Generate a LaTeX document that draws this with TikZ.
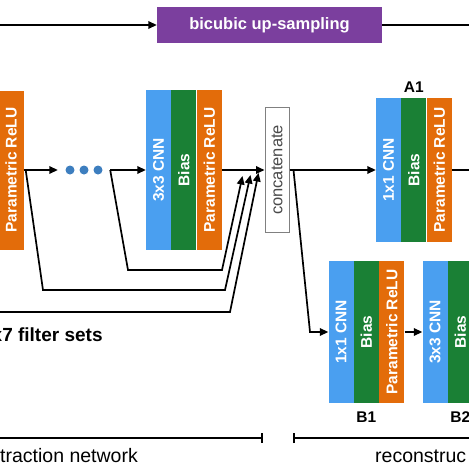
\documentclass[tikz,border=0pt]{standalone}
\usepackage{fontspec}
\setmainfont{Liberation Sans}
\usepackage{graphicx}
\usepackage{tikz}
\usetikzlibrary{arrows.meta,positioning,calc}
\definecolor{azul}{HTML}{4A9FF0}
\definecolor{verde}{HTML}{1A8035}
\definecolor{naranja}{HTML}{E36C0A}
\definecolor{morado}{HTML}{7B3F9E}
\definecolor{azulpunto}{HTML}{3D7EBF}
\definecolor{gris}{HTML}{808080}
\definecolor{grisoscuro}{HTML}{4A4A4A}
\newcommand{\girar}[1]{\rotatebox{90}{#1}}
\tikzset{
  capa/.style={minimum width=25pt,inner sep=0pt,text=white,font=\fontsize{15.5}{16}\selectfont\bfseries},
  capaazul/.style={capa,fill=azul},
  capaverde/.style={capa,fill=verde},
  capanaranja/.style={capa,fill=naranja},
  cajagris/.style={draw=gris,fill=white,line width=1pt,minimum width=24pt,minimum height=125pt,inner sep=0pt,text=grisoscuro,font=\fontsize{16.5}{17}\selectfont},
  caja/.style={fill=morado,text=white,minimum width=225pt,minimum height=36pt,font=\fontsize{16.5}{17}\selectfont\bfseries},
  punto/.style={circle,fill=azulpunto,minimum size=9pt,inner sep=0pt},
  flecha/.style={-{Triangle[length=8.5pt,width=7.5pt]},line width=1.7pt},
  linea/.style={line width=1.7pt},
  etiqueta/.style={font=\fontsize{15.5}{16}\selectfont\bfseries,inner sep=0pt},
  rango/.style={line width=1.6pt},
  titulo/.style={font=\fontsize{19.5}{20}\selectfont,inner sep=0pt,anchor=west},
}

\begin{document}
\begin{tikzpicture}[x=1pt,y=-1pt]
  \useasboundingbox (0,0) rectangle (469,469);
  \clip (0,0) rectangle (469,469);
  % bicubic up-sampling
  \coordinate (entrada) at (0,25);
  \coordinate (salida) at (469,25);
  \node[caja] (bicubic) at (269.5,25) {bicubic up-sampling};
  \draw[flecha] (entrada) -- (bicubic.west);
  \draw[linea] (bicubic.east) -- (salida);
  % feature extraction
  \node[capanaranja,minimum height=159pt] (reluL) at (11,170) {\girar{Parametric ReLU}};
  \node[minimum width=52pt,minimum height=10pt,inner sep=0pt] (puntos) at (84,170) {};
  \foreach \dx/\n in {-14/p1,0/p2,14/p3} \node[punto] (\n) at ($(puntos.center)+(\dx,0)$) {};
  \node[capaazul,minimum height=160pt] (cnnE) at (158.5,170) {\girar{3x3 CNN}};
  \node[capaverde,minimum height=160pt,right=0pt of cnnE] (biasE) {\girar{Bias}};
  \node[capanaranja,minimum height=160pt,right=0pt of biasE] (reluE) {\girar{Parametric ReLU}};
  \node[cajagris] (concat) at (277,170) {\girar{concatenate}};
  \draw[flecha] (reluL.east) -- (puntos.west);
  \draw[flecha] (puntos.east) -- (cnnE.west);
  \draw[flecha] (reluE.east) -- (concat.west);
  % skip connections
  \coordinate (ramaL) at ($(reluL.east)+(2,0)$);
  \coordinate (externa) at (0,312);
  \draw[flecha] (puntos.east) -- (128,270) -- (222,270) -- ($(concat.west)+(-22,6)$);
  \draw[flecha] (ramaL) -- (43,290) -- (225,290) -- ($(concat.west)+(-14,5)$);
  \draw[flecha] (externa) -- (230,312) -- ($(concat.west)+(-6,3)$);
  \node[font=\fontsize{19}{20}\selectfont\bfseries,inner sep=0pt,anchor=west] (filtros) at (-8.5,335) {x7 filter sets};
  % A1
  \node[capaazul,minimum height=144pt] (cnnA) at (388.5,170) {\girar{1x1 CNN}};
  \node[capaverde,minimum height=144pt,right=0pt of cnnA] (biasA) {\girar{Bias}};
  \node[capanaranja,minimum height=144pt,right=0pt of biasA] (reluA) {\girar{Parametric ReLU}};
  \node[etiqueta,above=5pt of biasA] (A1) {A1};
  % B1, B2
  \node[capaazul,minimum height=142pt] (cnnB1) at (341,332) {\girar{1x1 CNN}};
  \node[capaverde,minimum height=142pt,right=0pt of cnnB1] (biasB1) {\girar{Bias}};
  \node[capanaranja,minimum height=142pt,right=0pt of biasB1] (reluB1) {\girar{Parametric ReLU}};
  \node[etiqueta,below=8pt of biasB1] (B1) {B1};
  \node[capaazul,minimum height=142pt] (cnnB2) at (435,332) {\girar{3x3 CNN}};
  \node[capaverde,minimum height=142pt,right=0pt of cnnB2] (biasB2) {\girar{Bias}};
  \node[etiqueta,below=8pt of biasB2] (B2) {B2};
  % reconstruction
  \coordinate (rama) at ($(concat.east)+(4,0)$);
  \coordinate (salidaA) at (469,170);
  \draw[flecha] (concat.east) -- (cnnA.west);
  \draw[flecha] (rama) -- (310,332) -- (cnnB1.west);
  \draw[linea] (reluA.east) -- (salidaA);
  \draw[flecha] (reluB1.east) -- (cnnB2.west);
  % ranges
  \coordinate (extI) at (0,438);
  \coordinate (extD) at (263,438);
  \coordinate (recI) at (293,438);
  \coordinate (recD) at (469,438);
  \draw[rango,-{Bar[width=10pt]}] (extI) -- (extD);
  \draw[rango,{Bar[width=10pt]}-] (recI) -- (recD);
  \node[titulo] (extraccion) at (0,456) {traction network};
  \node[titulo] (reconstruccion) at (375,456) {reconstruc};
\end{tikzpicture}
\end{document}
